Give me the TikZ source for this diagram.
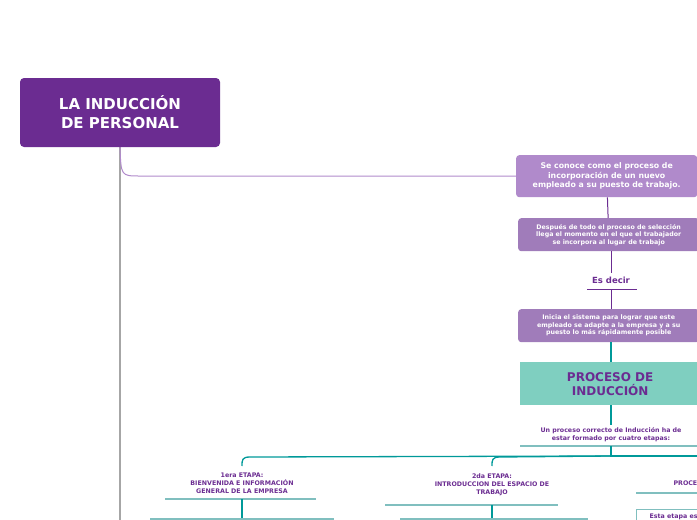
\documentclass[tikz,border=0pt]{standalone}
\usepackage{fontspec}
\setmainfont{DejaVu Sans}
\begin{document}
\begin{tikzpicture}[x=1pt,y=-1pt,
  pbox/.style={fill=#1,rounded corners=3pt,text=white,font=\bfseries\fontsize{6.5}{7.5}\selectfont,align=center,inner sep=2pt},
  plink/.style={draw=tpurp,line width=1pt},
  tlink/.style={draw=teal!80!cyan,line width=1.3pt},
  uline/.style={draw=teal!50,line width=1.3pt},
  ptxt/.style={text=tpurp,font=\bfseries\fontsize{6.5}{7.5}\selectfont,align=center}]
\definecolor{tpurp}{HTML}{6B2C91}
\definecolor{lpurp}{HTML}{B08ACB}
\definecolor{mpurp}{HTML}{A07CBA}
\definecolor{tealb}{HTML}{7FCFC0}
\useasboundingbox (0,0) rectangle (697,520);
\clip (0,0) rectangle (697,520);
\draw[gray!70,line width=2.5pt] (120,147) -- (120,520);
\draw[lpurp,line width=1pt] (120,147) .. controls (121,176) .. (140,176) -- (516,176);
\node[fill=tpurp,rounded corners=4pt,text=white,font=\bfseries\fontsize{15}{19}\selectfont,align=center,minimum width=200pt,minimum height=69pt] (title) at (120,112.5) {LA INDUCCIÓN\\DE PERSONAL};
\node[pbox=lpurp,minimum width=181pt,minimum height=42pt,font=\bfseries\fontsize{7.8}{9.5}\selectfont,anchor=north west] (b1) at (516,155) {Se conoce como el proceso de\\incorporación de un nuevo\\empleado a su puesto de trabajo.};
\node[pbox=mpurp,minimum width=181pt,minimum height=33pt,anchor=north west,font=\bfseries\fontsize{6.3}{7.5}\selectfont] (b2) at (518,218) {Después de todo el proceso de selección\\llega el momento en el que el trabajador\\se incorpora al lugar de trabajo};
\node[ptxt,font=\bfseries\fontsize{8.5}{10}\selectfont] (ed) at (611,280) {Es decir};
\coordinate (edu) at (611,289);
\node[pbox=mpurp,minimum width=181pt,minimum height=33pt,anchor=north west,font=\bfseries\fontsize{6.3}{7.5}\selectfont] (b3) at (518,309) {Inicia el sistema para lograr que este\\empleado se adapte a la empresa y a su\\puesto lo más rápidamente posible};
\node[fill=tealb,minimum width=180pt,minimum height=43pt,anchor=north west,text=tpurp,font=\bfseries\fontsize{12}{14}\selectfont,align=center] (pi) at (520,362) {PROCESO DE\\INDUCCIÓN};
\node[ptxt,font=\bfseries\fontsize{6.3}{7.8}\selectfont] (up) at (611,435) {Un proceso correcto de Inducción ha de\\estar formado por cuatro etapas:};
\draw[plink] (b1) -- (b2);
\draw[plink] (b2.south -| 611,0) -- (ed.north);
\draw[plink] (587,289) -- (637,289);
\draw[plink] (edu) -- (b3.north -| 611,0);
\draw[tlink] (b3.south -| 611,0) -- (pi.north -| 611,0);
\draw[tlink] (pi.south -| 611,0) -- (611,425);
\draw[uline] (520,446) -- (697,446);
\draw[tlink] (611,446) -- (611,456) -- (697,456);
\draw[tlink] (611,456) -- (250,457) .. controls (242,457) and (242,460) .. (242,466);
\draw[tlink] (611,456) -- (500,457) .. controls (492,457) and (492,460) .. (492,466);
\node[ptxt,font=\bfseries\fontsize{6.3}{7.8}\selectfont] (e1) at (242,483) {1era ETAPA:\\BIENVENIDA E INFORMACIÓN\\GENERAL DE LA EMPRESA};
\draw[uline] (165,499) -- (316,499);
\draw[tlink] (242,499) -- (242,518);
\draw[uline] (150,519) -- (334,519);
\node[ptxt,font=\bfseries\fontsize{6.3}{7.8}\selectfont] (e2) at (492,485) {2da ETAPA:\\INTRODUCCION DEL ESPACIO DE\\TRABAJO};
\draw[uline] (385,505) -- (558,505);
\draw[tlink] (492,505) -- (492,518);
\draw[uline] (400,519) -- (588,519);
\node[ptxt,font=\bfseries\fontsize{6.3}{7.8}\selectfont,anchor=west] (e3) at (670,483) {PROCESO};
\draw[uline] (636,493) -- (697,493);
\draw[teal!50,line width=0.8pt] (636,520) -- (636,509) -- (697,509);
\node[font=\bfseries\fontsize{6.3}{7.8}\selectfont,text=tpurp,anchor=west] (e3t) at (646,517) {Esta etapa es};
\end{tikzpicture}
\end{document}
